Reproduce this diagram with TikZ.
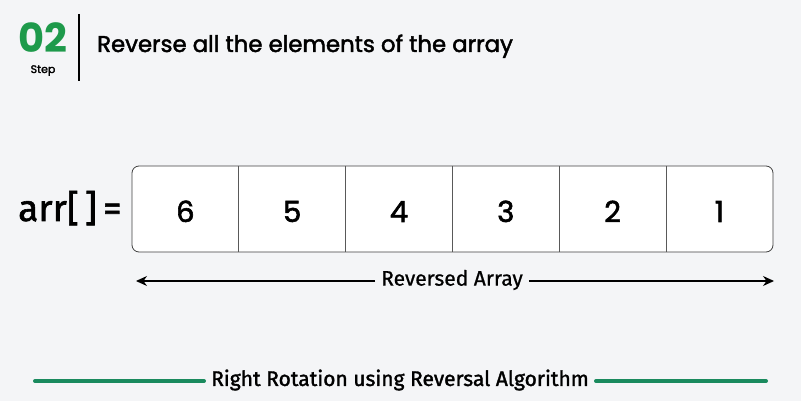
\documentclass[tikz,border=0pt]{standalone}
\usepackage{fontspec}
\setmainfont{Poppins}
\newfontfamily\labelfont[FakeBold=0.8]{Fira Sans}
\newfontfamily\medfont[FakeBold=2]{Poppins}
\newfontfamily\medlabel[FakeBold=1.6]{Fira Sans}
\usetikzlibrary{arrows.meta}
\definecolor{bggray}{HTML}{F4F5F7}
\definecolor{stepgreen}{HTML}{1E9A4B}
\definecolor{linegreen}{HTML}{1A8A5E}
\tikzset{
  cell text/.style={
    font=\medfont\fontsize{29}{29}\selectfont,
    inner sep=0pt
  },
  arrow details/.style={
    >={Stealth[length=11pt,width=10pt]},
    line width=1.2pt
  },
  green bar/.style={
    linegreen,
    line width=4pt,
    line cap=round
  }
}

\begin{document}
\begin{tikzpicture}[x=1pt,y=-1pt]
\fill[bggray] (0,0) rectangle (801,401);
\useasboundingbox (0,0) rectangle (801,401);
% step header
\node (num) at (43,53) [anchor=base,stepgreen,font=\fontsize{40}{40}\selectfont\bfseries,inner sep=0pt] {02};
\node (step) at (43,73) [anchor=base,font=\medfont\fontsize{11}{11}\selectfont,inner sep=0pt] {Step};
\coordinate (bartop) at (79,14);
\coordinate (barbot) at (79,81);
\draw[line width=1.6pt] (bartop) -- (barbot);
\node (head) at (97,52) [anchor=base west,font=\medfont\fontsize{22.8}{22.8}\selectfont,inner sep=0pt] {Reverse all the elements of the array};
% the array
\node (arr) at (452.5,209) [draw=black!75,fill=white,rounded corners=7pt,minimum width=641pt,minimum height=86pt,line width=0.8pt] {};
\node (lhs) at (18,221) [anchor=base west,font=\medlabel\fontsize{37}{37}\selectfont,inner sep=0pt] {arr[\,]\,=};
\foreach \v [count=\i] in {6,5,4,3,2,1} {
  \node (c\i) at ({132+106.8*(\i-0.5)},222) [anchor=base,cell text] {\v};
}
\foreach \i in {1,...,5} {
  \draw[black!65,line width=0.8pt] ({132+106.8*\i},166) -- ({132+106.8*\i},252);
}
% reversed arrow
\node (rev) at (452,280) [font=\labelfont\fontsize{21}{21}\selectfont,inner sep=6pt] {Reversed Array};
\coordinate (lend) at (136,281);
\coordinate (rend) at (774,281);
\draw[arrow details,->] (rev.west |- lend) -- (lend);
\draw[arrow details,->] (rev.east |- rend) -- (rend);
% footer
\node (foot) at (400,380) [font=\medlabel\fontsize{21}{21}\selectfont,inner sep=7pt] {Right Rotation using Reversal Algorithm};
\coordinate (fl) at (35,381);
\coordinate (fr) at (766,381);
\draw[green bar] (fl) -- (foot.west |- fl);
\draw[green bar] (foot.east |- fr) -- (fr);
\end{tikzpicture}
\end{document}
